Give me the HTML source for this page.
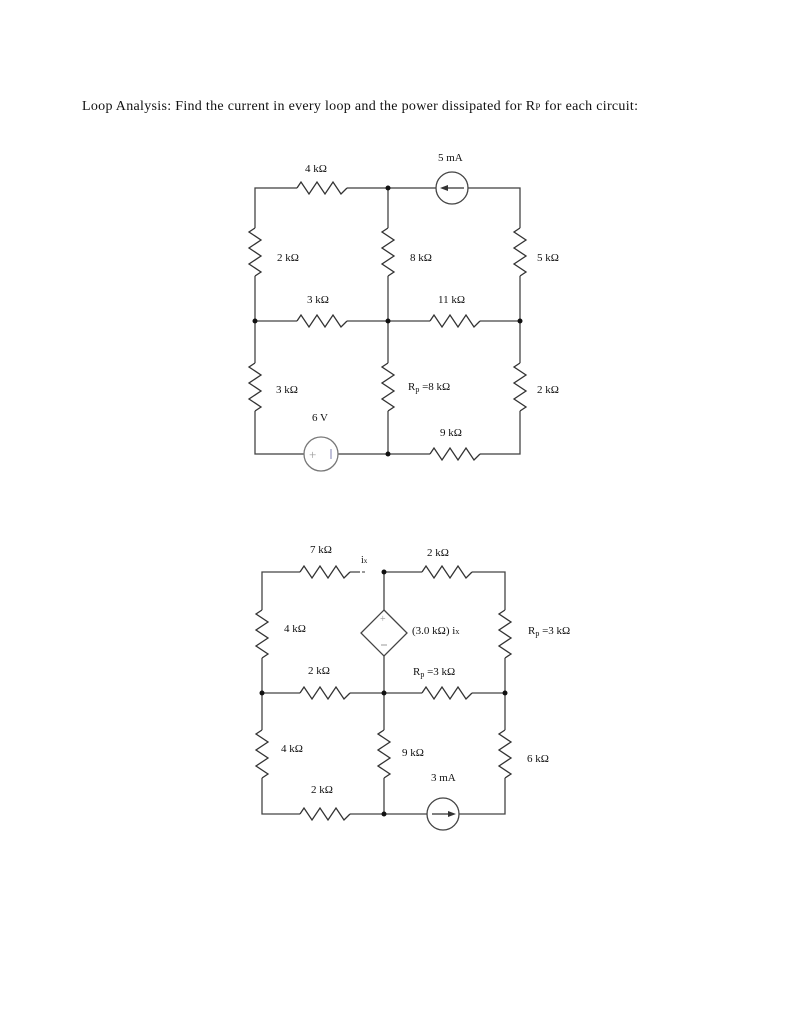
<!DOCTYPE html>
<html><head><meta charset="utf-8"><style>
html,body{margin:0;padding:0;background:#fff;}
svg{display:block;font-family:"Liberation Serif",serif;}
</style></head><body>
<svg width="791" height="1024" viewBox="0 0 791 1024" xmlns="http://www.w3.org/2000/svg">
<defs>
<g id="rh"><line x1="0" y1="0" x2="50" y2="0" stroke="#fff" stroke-width="5"/><path d="M0,0 l4,-6 l8,12 l8,-12 l8,12 l8,-12 l8,12 l6,-6" fill="none" stroke="#333" stroke-width="1.3"/></g>
<g id="rv"><line x1="0" y1="0" x2="0" y2="48" stroke="#fff" stroke-width="5"/><path d="M0,0 l-6,4 l12,8 l-12,8 l12,8 l-12,8 l12,8 l-6,4" fill="none" stroke="#333" stroke-width="1.3"/></g>
</defs>
<text x="82" y="110" font-size="14" textLength="556" fill="#111">Loop Analysis: Find the current in every loop and the power dissipated for R<tspan font-size="9">P</tspan> for each circuit:</text>

<!-- circuit 1 -->
<g stroke="#444" stroke-width="1.3" fill="none">
<rect x="255" y="188" width="265" height="266"/>
<line x1="388" y1="188" x2="388" y2="454"/>
<line x1="255" y1="321" x2="520" y2="321"/>
</g>
<use href="#rh" x="297" y="188"/>
<use href="#rh" x="297" y="321"/>
<use href="#rh" x="430" y="321"/>
<use href="#rh" x="430" y="454"/>
<use href="#rv" x="255" y="228"/>
<use href="#rv" x="388" y="228"/>
<use href="#rv" x="520" y="228"/>
<use href="#rv" x="255" y="363"/>
<use href="#rv" x="388" y="363"/>
<use href="#rv" x="520" y="363"/>
<circle cx="452" cy="188" r="16" fill="#fff" stroke="#444" stroke-width="1.3"/>
<line x1="464" y1="188" x2="445" y2="188" stroke="#333" stroke-width="1.3"/>
<path d="M440,188 l8,-3 v6z" fill="#333"/>
<circle cx="321" cy="454" r="17" fill="#fff" stroke="#777" stroke-width="1.3"/>
<text x="309" y="459" font-size="13" fill="#999">+</text>
<line x1="331" y1="449" x2="331" y2="459" stroke="#aac" stroke-width="1.5"/>
<g fill="#111">
<circle cx="388" cy="188" r="2.5"/><circle cx="255" cy="321" r="2.5"/><circle cx="388" cy="321" r="2.5"/><circle cx="520" cy="321" r="2.5"/><circle cx="388" cy="454" r="2.5"/>
</g>
<g font-size="11" fill="#111">
<text x="305" y="172">4 kΩ</text>
<text x="438" y="161">5 mA</text>
<text x="277" y="261">2 kΩ</text>
<text x="410" y="261">8 kΩ</text>
<text x="537" y="261">5 kΩ</text>
<text x="307" y="303">3 kΩ</text>
<text x="438" y="303">11 kΩ</text>
<text x="276" y="393">3 kΩ</text>
<text x="408" y="390">R<tspan font-size="8" dy="2">p</tspan><tspan dy="-2"> =8 kΩ</tspan></text>
<text x="537" y="393">2 kΩ</text>
<text x="312" y="421">6 V</text>
<text x="440" y="436">9 kΩ</text>
</g>

<!-- circuit 2 -->
<g stroke="#444" stroke-width="1.3" fill="none">
<polyline points="360,572 262,572 262,814 505,814 505,572 384,572"/>
<line x1="384" y1="572" x2="384" y2="814"/>
<line x1="262" y1="693" x2="505" y2="693"/>
</g>
<use href="#rh" x="300" y="572"/>
<use href="#rh" x="422" y="572"/>
<use href="#rh" x="300" y="693"/>
<use href="#rh" x="422" y="693"/>
<use href="#rh" x="300" y="814"/>
<use href="#rv" x="262" y="610"/>
<use href="#rv" x="505" y="610"/>
<use href="#rv" x="262" y="730"/>
<use href="#rv" x="384" y="730"/>
<use href="#rv" x="505" y="730"/>
<path d="M384,610 l23,23 l-23,23 l-23,-23z" fill="#fff" stroke="#444" stroke-width="1.3"/>
<text x="380" y="622" font-size="10" fill="#999">+</text>
<line x1="381" y1="645" x2="387" y2="645" stroke="#999"/>
<circle cx="443" cy="814" r="16" fill="#fff" stroke="#444" stroke-width="1.3"/>
<line x1="432" y1="814" x2="450" y2="814" stroke="#333" stroke-width="1.3"/>
<path d="M456,814 l-8,-3 v6z" fill="#333"/>
<line x1="362" y1="572" x2="365" y2="572" stroke="#333"/>
<g fill="#111">
<circle cx="384" cy="572" r="2.5"/><circle cx="262" cy="693" r="2.5"/><circle cx="384" cy="693" r="2.5"/><circle cx="505" cy="693" r="2.5"/><circle cx="384" cy="814" r="2.5"/>
</g>
<g font-size="11" fill="#111">
<text x="310" y="553">7 kΩ</text>
<text x="361" y="563" font-size="10">i<tspan font-size="7">x</tspan></text>
<text x="427" y="556">2 kΩ</text>
<text x="284" y="632">4 kΩ</text>
<text x="412" y="634">(3.0 kΩ) i<tspan font-size="8">x</tspan></text>
<text x="528" y="634">R<tspan font-size="8" dy="2">p</tspan><tspan dy="-2"> =3 kΩ</tspan></text>
<text x="308" y="674">2 kΩ</text>
<text x="413" y="675">R<tspan font-size="8" dy="2">p</tspan><tspan dy="-2"> =3 kΩ</tspan></text>
<text x="281" y="752">4 kΩ</text>
<text x="402" y="756">9 kΩ</text>
<text x="527" y="762">6 kΩ</text>
<text x="431" y="781">3 mA</text>
<text x="311" y="793">2 kΩ</text>
</g>
</svg>
</body></html>
